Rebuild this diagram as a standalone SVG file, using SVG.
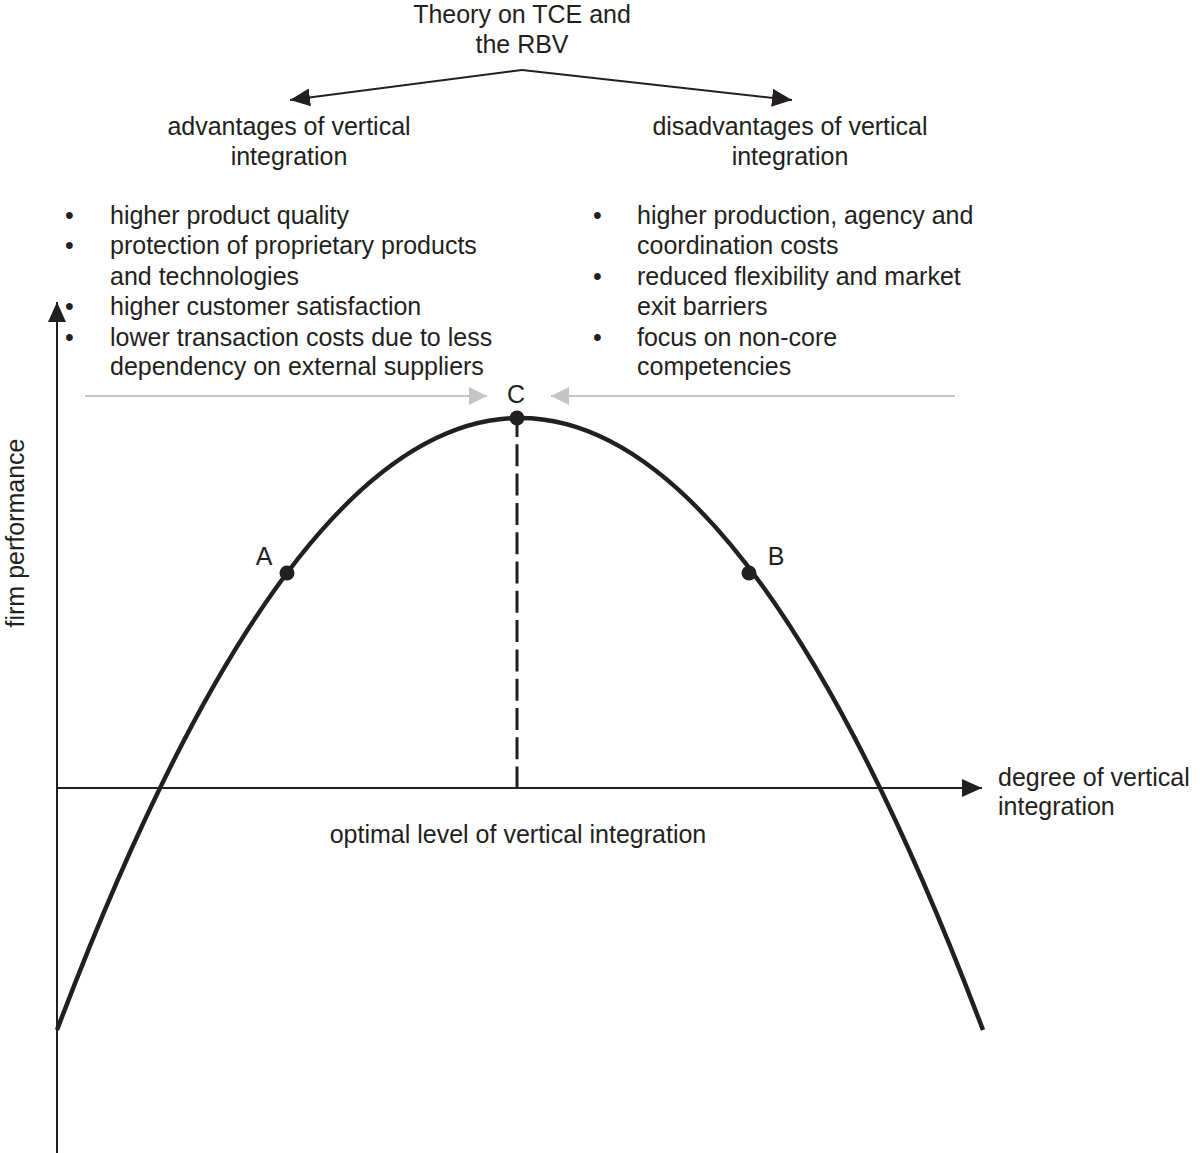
<svg xmlns="http://www.w3.org/2000/svg" width="1200" height="1153" viewBox="0 0 1200 1153">
<style>
text{font-family:"Liberation Sans",Arial,sans-serif;font-size:25px;fill:#231f20}
.c{text-anchor:middle}
.ax{stroke:#231f20;stroke-width:2;fill:none}
.grey{stroke:#c4c4c4;stroke-width:2;fill:none}
</style>
<defs>
<marker id="abig" viewBox="0 0 20 18" refX="20" refY="9" markerWidth="20" markerHeight="18" markerUnits="userSpaceOnUse" orient="auto"><path d="M0,0L20,9L0,18z" fill="#231f20"/></marker>
<marker id="ag" viewBox="0 0 18 18" refX="18" refY="9" markerWidth="18" markerHeight="18" markerUnits="userSpaceOnUse" orient="auto"><path d="M0,0L18,9L0,18z" fill="#c4c4c4"/></marker>
</defs>
<g id="connectors">
<path class="ax" d="M57,1153V302" marker-end="url(#abig)"/>
<path class="ax" d="M57,788H982" marker-end="url(#abig)"/>
<path d="M57,1030Q520,-194 983,1030" stroke="#231f20" stroke-width="4.5" fill="none"/>
<path d="M517,418V788" stroke="#231f20" stroke-width="3" stroke-dasharray="22,7.3" stroke-dashoffset="3" fill="none"/>
<path class="ax" d="M522,70L290,100" marker-end="url(#abig)"/>
<path class="ax" d="M522,70L792,100" marker-end="url(#abig)"/>
<path class="grey" d="M85,396H487" marker-end="url(#ag)"/>
<path class="grey" d="M955,396H551" marker-end="url(#ag)"/>
</g>
<g id="title"><text class="c" x="522" y="23">Theory on TCE and</text><text class="c" x="522" y="53">the RBV</text></g>
<g id="adv"><text class="c" x="289" y="135">advantages of vertical</text><text class="c" x="289" y="165">integration</text></g>
<g id="disadv"><text class="c" x="790" y="135">disadvantages of vertical</text><text class="c" x="790" y="165">integration</text></g>
<g id="adv-list">
<text x="65" y="224">•</text><text x="110" y="224">higher product quality</text>
<text x="65" y="254">•</text><text x="110" y="254">protection of proprietary products</text>
<text x="110" y="285">and technologies</text>
<text x="65" y="315">•</text><text x="110" y="315">higher customer satisfaction</text>
<text x="65" y="346">•</text><text x="110" y="346">lower transaction costs due to less</text>
<text x="110" y="375">dependency on external suppliers</text>
</g>
<g id="disadv-list">
<text x="593" y="224">•</text><text x="637" y="224">higher production, agency and</text>
<text x="637" y="254">coordination costs</text>
<text x="593" y="285">•</text><text x="637" y="285">reduced flexibility and market</text>
<text x="637" y="315">exit barriers</text>
<text x="593" y="346">•</text><text x="637" y="346">focus on non-core</text>
<text x="637" y="375">competencies</text>
</g>
<g id="point-C"><circle cx="517" cy="418" r="7.5" fill="#231f20"/><text class="c" x="516" y="403">C</text></g>
<g id="point-A"><circle cx="287" cy="573" r="7.5" fill="#231f20"/><text class="c" x="264" y="565">A</text></g>
<g id="point-B"><circle cx="749" cy="573" r="7.5" fill="#231f20"/><text class="c" x="776" y="565">B</text></g>
<g id="x-label"><text x="998" y="786">degree of vertical</text><text x="998" y="815">integration</text></g>
<g id="y-label"><text class="c" transform="translate(24,533) rotate(-90)">firm performance</text></g>
<g id="optimal"><text class="c" x="518" y="843">optimal level of vertical integration</text></g>
</svg>
